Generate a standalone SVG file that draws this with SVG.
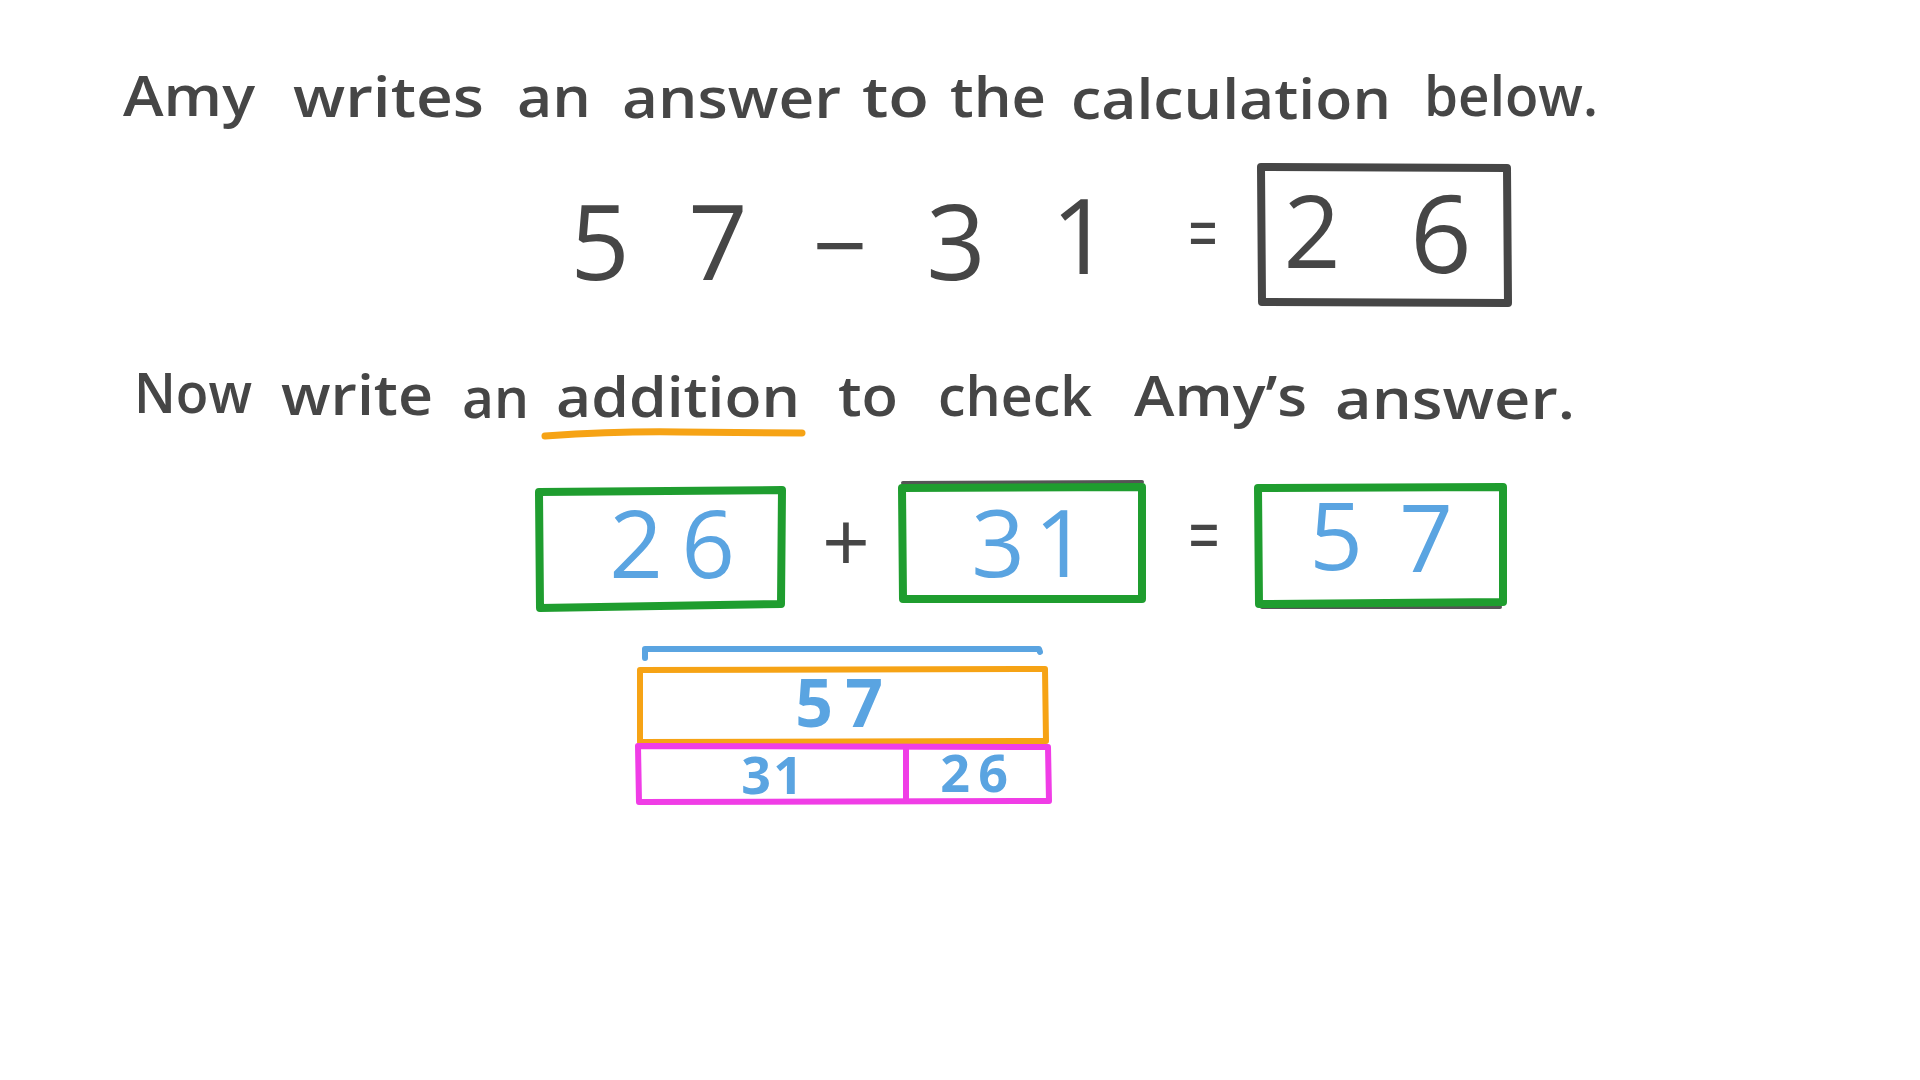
<svg xmlns="http://www.w3.org/2000/svg" width="1920" height="1080" viewBox="0 0 1920 1080">
  <style>
    .t { font-family: "Open Sans", "Liberation Sans", sans-serif; font-weight: 600; fill: #464646; font-size: 56px; }
    .big { font-family: "Open Sans", "Liberation Sans", sans-serif; font-weight: 500; fill: #464646; text-anchor: middle; }
    .blue { font-family: "Open Sans", "Liberation Sans", sans-serif; font-weight: 500; fill: #5aa4e1; text-anchor: middle; }
    .blueb { font-family: "Open Sans", "Liberation Sans", sans-serif; font-weight: 700; fill: #5aa4e1; text-anchor: middle; }
    .dark { fill: none; stroke: #464646; stroke-width: 8; stroke-linecap: round; stroke-linejoin: round; }
    .green { fill: none; stroke: #1f9d2f; stroke-width: 8; stroke-linecap: round; stroke-linejoin: round; }
    .shadow { fill: none; stroke: #555555; stroke-width: 4; stroke-linecap: round; }
    .orange { fill: none; stroke: #f6a315; stroke-width: 6; stroke-linecap: round; stroke-linejoin: round; }
    .magenta { fill: none; stroke: #f03de6; stroke-width: 6; stroke-linecap: round; stroke-linejoin: round; }
    .bluel { fill: none; stroke: #5aa4e1; stroke-width: 6; stroke-linecap: round; stroke-linejoin: round; }
  </style>
  <rect width="1920" height="1080" fill="#ffffff"/>

  <g id="line1">
    <text class="t" x="123" y="116" textLength="132" lengthAdjust="spacingAndGlyphs">Amy</text>
    <text class="t" x="293" y="117" textLength="191" lengthAdjust="spacingAndGlyphs">writes</text>
    <text class="t" x="517" y="117" textLength="74" lengthAdjust="spacingAndGlyphs">an</text>
    <text class="t" x="622" y="118" textLength="219" lengthAdjust="spacingAndGlyphs">answer</text>
    <text class="t" x="862" y="117" textLength="67" lengthAdjust="spacingAndGlyphs">to</text>
    <text class="t" x="950" y="117" textLength="96" lengthAdjust="spacingAndGlyphs">the</text>
    <text class="t" x="1071" y="119" textLength="320" lengthAdjust="spacingAndGlyphs">calculation</text>
    <text class="t" x="1424" y="116" textLength="174" lengthAdjust="spacingAndGlyphs">below.</text>
  </g>

  <g id="subtraction">
    <text class="big" x="600" y="280" font-size="104">5</text>
    <text class="big" x="718" y="280" font-size="104">7</text>
    <text class="big" x="840" y="280" font-size="96">−</text>
    <text class="big" x="956" y="280" font-size="104">3</text>
    <text class="big" x="1081" y="274" font-size="104">1</text>
    <text class="big" x="1203" y="262" font-size="80" font-weight="700" textLength="30" lengthAdjust="spacingAndGlyphs">=</text>
  </g>

  <g id="answer-box">
    <path class="dark" d="M1261,167 L1507,168 L1508,303 L1262,302 Z"/>
    <text class="big" x="1312" y="268" font-size="100">2</text>
    <text class="big" x="1441" y="273" font-size="108">6</text>
  </g>

  <g id="line2">
    <text class="t" x="134" y="413" textLength="118" lengthAdjust="spacingAndGlyphs">Now</text>
    <text class="t" x="281" y="415" textLength="152" lengthAdjust="spacingAndGlyphs">write</text>
    <text class="t" x="462" y="418" textLength="67" lengthAdjust="spacingAndGlyphs">an</text>
    <text class="t" x="556" y="417" textLength="244" lengthAdjust="spacingAndGlyphs">addition</text>
    <text class="t" x="838" y="416" textLength="60" lengthAdjust="spacingAndGlyphs">to</text>
    <text class="t" x="938" y="416" textLength="154" lengthAdjust="spacingAndGlyphs">check</text>
    <text class="t" x="1134" y="416" textLength="173" lengthAdjust="spacingAndGlyphs">Amy’s</text>
    <text class="t" x="1335" y="419" textLength="240" lengthAdjust="spacingAndGlyphs">answer.</text>
    <path d="M545,436 Q620,431 680,432 L802,433" fill="none" stroke="#f6a315" stroke-width="7" stroke-linecap="round"/>
  </g>

  <g id="box-26">
    <path class="green" d="M539,492 L782,490 L781,604 L540,608 Z"/>
    <text class="blue" x="636" y="578" font-size="94">2</text>
    <text class="blue" x="708" y="578" font-size="94">6</text>
  </g>

  <g id="plus">
    <text class="big" x="846" y="572" font-size="84" font-weight="700">+</text>
  </g>

  <g id="box-31">
    <line class="shadow" x1="903" y1="483" x2="1142" y2="482"/>
    <path class="green" d="M902,488 L1142,487 L1142,599 L903,599 Z"/>
    <text class="blue" x="998" y="577" font-size="94">3</text>
    <text class="blue" x="1061" y="577" font-size="94">1</text>
  </g>

  <g id="equals">
    <text class="big" x="1204" y="564" font-size="80" font-weight="700" textLength="32" lengthAdjust="spacingAndGlyphs">=</text>
  </g>

  <g id="box-57">
    <line class="shadow" x1="1262" y1="607" x2="1500" y2="607"/>
    <path class="green" d="M1258,488 L1503,487 L1503,602 L1259,604 Z"/>
    <text class="blue" x="1336" y="570" font-size="94">5</text>
    <text class="blue" x="1426" y="572" font-size="94">7</text>
  </g>

  <g id="bar-model">
    <path class="bluel" d="M645,658 L645,649 L1039,649 L1040,652"/>
    <path class="orange" d="M640,670 L1045,669 L1046,741 L640,742 Z"/>
    <text class="blueb" x="814" y="727" font-size="66">5</text>
    <text class="blueb" x="864" y="727" font-size="66">7</text>
    <path class="magenta" d="M638,746 L1048,747 L1049,801 L639,802 Z"/>
    <line class="magenta" x1="906" y1="747" x2="906" y2="801"/>
    <text class="blueb" x="756" y="794" font-size="52">3</text>
    <text class="blueb" x="788" y="794" font-size="52">1</text>
    <text class="blueb" x="955" y="792" font-size="52">2</text>
    <text class="blueb" x="993" y="792" font-size="52">6</text>
  </g>
</svg>
